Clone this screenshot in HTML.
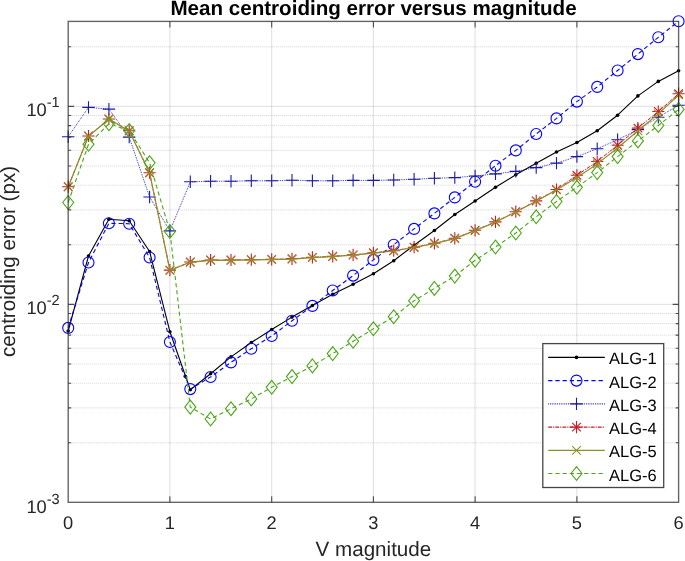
<!DOCTYPE html>
<html><head><meta charset="utf-8"><title>Mean centroiding error versus magnitude</title>
<style>html,body{margin:0;padding:0;background:#fff}body{width:685px;height:561px;overflow:hidden}svg{display:block;text-rendering:geometricPrecision}</style>
</head><body>
<svg width="685" height="561" viewBox="0 0 685 561" font-family="Liberation Sans, Arial, Helvetica, sans-serif">
<rect width="685" height="561" fill="#fff"/>
<g><line x1="169.9" y1="21.4" x2="169.9" y2="502.3" stroke="#262626" stroke-opacity="0.15" stroke-width="1"/>
<line x1="271.7" y1="21.4" x2="271.7" y2="502.3" stroke="#262626" stroke-opacity="0.15" stroke-width="1"/>
<line x1="373.4" y1="21.4" x2="373.4" y2="502.3" stroke="#262626" stroke-opacity="0.15" stroke-width="1"/>
<line x1="475.1" y1="21.4" x2="475.1" y2="502.3" stroke="#262626" stroke-opacity="0.15" stroke-width="1"/>
<line x1="576.9" y1="21.4" x2="576.9" y2="502.3" stroke="#262626" stroke-opacity="0.15" stroke-width="1"/>
<line x1="68.2" y1="304.4" x2="678.6" y2="304.4" stroke="#262626" stroke-opacity="0.15" stroke-width="1"/>
<line x1="68.2" y1="106.4" x2="678.6" y2="106.4" stroke="#262626" stroke-opacity="0.15" stroke-width="1"/>
<line x1="68.2" y1="442.8" x2="678.6" y2="442.8" stroke="#262626" stroke-opacity="0.2" stroke-width="1" stroke-dasharray="1 1"/>
<line x1="68.2" y1="407.9" x2="678.6" y2="407.9" stroke="#262626" stroke-opacity="0.2" stroke-width="1" stroke-dasharray="1 1"/>
<line x1="68.2" y1="383.2" x2="678.6" y2="383.2" stroke="#262626" stroke-opacity="0.2" stroke-width="1" stroke-dasharray="1 1"/>
<line x1="68.2" y1="364.0" x2="678.6" y2="364.0" stroke="#262626" stroke-opacity="0.2" stroke-width="1" stroke-dasharray="1 1"/>
<line x1="68.2" y1="348.3" x2="678.6" y2="348.3" stroke="#262626" stroke-opacity="0.2" stroke-width="1" stroke-dasharray="1 1"/>
<line x1="68.2" y1="335.1" x2="678.6" y2="335.1" stroke="#262626" stroke-opacity="0.2" stroke-width="1" stroke-dasharray="1 1"/>
<line x1="68.2" y1="323.6" x2="678.6" y2="323.6" stroke="#262626" stroke-opacity="0.2" stroke-width="1" stroke-dasharray="1 1"/>
<line x1="68.2" y1="313.5" x2="678.6" y2="313.5" stroke="#262626" stroke-opacity="0.2" stroke-width="1" stroke-dasharray="1 1"/>
<line x1="68.2" y1="244.8" x2="678.6" y2="244.8" stroke="#262626" stroke-opacity="0.2" stroke-width="1" stroke-dasharray="1 1"/>
<line x1="68.2" y1="209.9" x2="678.6" y2="209.9" stroke="#262626" stroke-opacity="0.2" stroke-width="1" stroke-dasharray="1 1"/>
<line x1="68.2" y1="185.2" x2="678.6" y2="185.2" stroke="#262626" stroke-opacity="0.2" stroke-width="1" stroke-dasharray="1 1"/>
<line x1="68.2" y1="166.0" x2="678.6" y2="166.0" stroke="#262626" stroke-opacity="0.2" stroke-width="1" stroke-dasharray="1 1"/>
<line x1="68.2" y1="150.3" x2="678.6" y2="150.3" stroke="#262626" stroke-opacity="0.2" stroke-width="1" stroke-dasharray="1 1"/>
<line x1="68.2" y1="137.1" x2="678.6" y2="137.1" stroke="#262626" stroke-opacity="0.2" stroke-width="1" stroke-dasharray="1 1"/>
<line x1="68.2" y1="125.6" x2="678.6" y2="125.6" stroke="#262626" stroke-opacity="0.2" stroke-width="1" stroke-dasharray="1 1"/>
<line x1="68.2" y1="115.5" x2="678.6" y2="115.5" stroke="#262626" stroke-opacity="0.2" stroke-width="1" stroke-dasharray="1 1"/>
<line x1="68.2" y1="46.8" x2="678.6" y2="46.8" stroke="#262626" stroke-opacity="0.2" stroke-width="1" stroke-dasharray="1 1"/></g>
<defs><clipPath id="cp"><rect x="60.2" y="13.399999999999999" width="626.4" height="496.90000000000003"/></clipPath></defs>
<g><polyline points="68.2,331.0 88.5,256.0 108.9,219.2 129.2,220.8 149.6,251.5 169.9,331.7 190.3,389.7 210.6,373.7 231.0,356.9 251.3,342.5 271.7,329.5 292.0,317.1 312.4,305.5 332.7,294.2 353.1,284.3 373.4,273.7 393.7,260.7 414.1,245.2 434.4,230.5 454.8,214.5 475.1,201.0 495.5,187.3 515.8,174.8 536.2,163.2 556.5,152.0 576.9,142.5 597.2,130.7 617.6,115.2 637.9,95.9 658.3,81.4 678.6,70.7" fill="none" stroke="#000000" stroke-width="1.1" stroke-linejoin="round"/>

<circle cx="68.2" cy="331.0" r="1.8" fill="#000000"/><circle cx="88.5" cy="256.0" r="1.8" fill="#000000"/><circle cx="108.9" cy="219.2" r="1.8" fill="#000000"/><circle cx="129.2" cy="220.8" r="1.8" fill="#000000"/><circle cx="149.6" cy="251.5" r="1.8" fill="#000000"/><circle cx="169.9" cy="331.7" r="1.8" fill="#000000"/><circle cx="190.3" cy="389.7" r="1.8" fill="#000000"/><circle cx="210.6" cy="373.7" r="1.8" fill="#000000"/><circle cx="231.0" cy="356.9" r="1.8" fill="#000000"/><circle cx="251.3" cy="342.5" r="1.8" fill="#000000"/><circle cx="271.7" cy="329.5" r="1.8" fill="#000000"/><circle cx="292.0" cy="317.1" r="1.8" fill="#000000"/><circle cx="312.4" cy="305.5" r="1.8" fill="#000000"/><circle cx="332.7" cy="294.2" r="1.8" fill="#000000"/><circle cx="353.1" cy="284.3" r="1.8" fill="#000000"/><circle cx="373.4" cy="273.7" r="1.8" fill="#000000"/><circle cx="393.7" cy="260.7" r="1.8" fill="#000000"/><circle cx="414.1" cy="245.2" r="1.8" fill="#000000"/><circle cx="434.4" cy="230.5" r="1.8" fill="#000000"/><circle cx="454.8" cy="214.5" r="1.8" fill="#000000"/><circle cx="475.1" cy="201.0" r="1.8" fill="#000000"/><circle cx="495.5" cy="187.3" r="1.8" fill="#000000"/><circle cx="515.8" cy="174.8" r="1.8" fill="#000000"/><circle cx="536.2" cy="163.2" r="1.8" fill="#000000"/><circle cx="556.5" cy="152.0" r="1.8" fill="#000000"/><circle cx="576.9" cy="142.5" r="1.8" fill="#000000"/><circle cx="597.2" cy="130.7" r="1.8" fill="#000000"/><circle cx="617.6" cy="115.2" r="1.8" fill="#000000"/><circle cx="637.9" cy="95.9" r="1.8" fill="#000000"/><circle cx="658.3" cy="81.4" r="1.8" fill="#000000"/><circle cx="678.6" cy="70.7" r="1.8" fill="#000000"/><circle cx="185.3" cy="376.2" r="1.8" fill="#000000"/>
<polyline points="68.2,327.9 88.5,262.5 108.9,223.3 129.2,223.7 149.6,257.5 169.9,342.0 190.3,389.1 210.6,377.0 231.0,362.4 251.3,348.7 271.7,336.0 292.0,320.8 312.4,305.9 332.7,290.5 353.1,275.6 373.4,259.9 393.7,244.7 414.1,228.9 434.4,213.4 454.8,197.4 475.1,181.7 495.5,165.7 515.8,150.4 536.2,134.0 556.5,118.4 576.9,101.6 597.2,86.9 617.6,70.5 637.9,54.1 658.3,37.3 678.6,21.3" fill="none" stroke="#0000ff" stroke-width="1.1" stroke-dasharray="4.2 3.0" stroke-linejoin="round"/>

<circle cx="68.2" cy="327.9" r="5.5" fill="none" stroke="#0000ff" stroke-width="1.1"/><circle cx="88.5" cy="262.5" r="5.5" fill="none" stroke="#0000ff" stroke-width="1.1"/><circle cx="108.9" cy="223.3" r="5.5" fill="none" stroke="#0000ff" stroke-width="1.1"/><circle cx="129.2" cy="223.7" r="5.5" fill="none" stroke="#0000ff" stroke-width="1.1"/><circle cx="149.6" cy="257.5" r="5.5" fill="none" stroke="#0000ff" stroke-width="1.1"/><circle cx="169.9" cy="342.0" r="5.5" fill="none" stroke="#0000ff" stroke-width="1.1"/><circle cx="190.3" cy="389.1" r="5.5" fill="none" stroke="#0000ff" stroke-width="1.1"/><circle cx="210.6" cy="377.0" r="5.5" fill="none" stroke="#0000ff" stroke-width="1.1"/><circle cx="231.0" cy="362.4" r="5.5" fill="none" stroke="#0000ff" stroke-width="1.1"/><circle cx="251.3" cy="348.7" r="5.5" fill="none" stroke="#0000ff" stroke-width="1.1"/><circle cx="271.7" cy="336.0" r="5.5" fill="none" stroke="#0000ff" stroke-width="1.1"/><circle cx="292.0" cy="320.8" r="5.5" fill="none" stroke="#0000ff" stroke-width="1.1"/><circle cx="312.4" cy="305.9" r="5.5" fill="none" stroke="#0000ff" stroke-width="1.1"/><circle cx="332.7" cy="290.5" r="5.5" fill="none" stroke="#0000ff" stroke-width="1.1"/><circle cx="353.1" cy="275.6" r="5.5" fill="none" stroke="#0000ff" stroke-width="1.1"/><circle cx="373.4" cy="259.9" r="5.5" fill="none" stroke="#0000ff" stroke-width="1.1"/><circle cx="393.7" cy="244.7" r="5.5" fill="none" stroke="#0000ff" stroke-width="1.1"/><circle cx="414.1" cy="228.9" r="5.5" fill="none" stroke="#0000ff" stroke-width="1.1"/><circle cx="434.4" cy="213.4" r="5.5" fill="none" stroke="#0000ff" stroke-width="1.1"/><circle cx="454.8" cy="197.4" r="5.5" fill="none" stroke="#0000ff" stroke-width="1.1"/><circle cx="475.1" cy="181.7" r="5.5" fill="none" stroke="#0000ff" stroke-width="1.1"/><circle cx="495.5" cy="165.7" r="5.5" fill="none" stroke="#0000ff" stroke-width="1.1"/><circle cx="515.8" cy="150.4" r="5.5" fill="none" stroke="#0000ff" stroke-width="1.1"/><circle cx="536.2" cy="134.0" r="5.5" fill="none" stroke="#0000ff" stroke-width="1.1"/><circle cx="556.5" cy="118.4" r="5.5" fill="none" stroke="#0000ff" stroke-width="1.1"/><circle cx="576.9" cy="101.6" r="5.5" fill="none" stroke="#0000ff" stroke-width="1.1"/><circle cx="597.2" cy="86.9" r="5.5" fill="none" stroke="#0000ff" stroke-width="1.1"/><circle cx="617.6" cy="70.5" r="5.5" fill="none" stroke="#0000ff" stroke-width="1.1"/><circle cx="637.9" cy="54.1" r="5.5" fill="none" stroke="#0000ff" stroke-width="1.1"/><circle cx="658.3" cy="37.3" r="5.5" fill="none" stroke="#0000ff" stroke-width="1.1"/><circle cx="678.6" cy="21.3" r="5.5" fill="none" stroke="#0000ff" stroke-width="1.1"/>
<polyline points="68.2,136.7 88.5,107.4 108.9,109.1 129.2,137.1 149.6,197.0 169.9,230.9 190.3,181.8 210.6,181.2 231.0,181.2 251.3,180.8 271.7,180.8 292.0,180.2 312.4,180.8 332.7,180.8 353.1,180.4 373.4,180.4 393.7,180.0 414.1,179.3 434.4,178.3 454.8,177.6 475.1,176.0 495.5,173.9 515.8,171.4 536.2,167.6 556.5,163.1 576.9,156.6 597.2,148.7 617.6,139.8 637.9,129.6 658.3,117.2 678.6,105.2" fill="none" stroke="#1a1aa6" stroke-width="1.0" stroke-dasharray="0.8 1.0" stroke-linejoin="round"/>

<path d="M62.0 136.7H74.4M68.2 130.5V142.9" stroke="#1a1aa6" stroke-width="1.1" fill="none"/><path d="M82.3 107.4H94.7M88.5 101.2V113.6" stroke="#1a1aa6" stroke-width="1.1" fill="none"/><path d="M102.7 109.1H115.1M108.9 102.9V115.3" stroke="#1a1aa6" stroke-width="1.1" fill="none"/><path d="M123.0 137.1H135.4M129.2 130.9V143.3" stroke="#1a1aa6" stroke-width="1.1" fill="none"/><path d="M143.4 197.0H155.8M149.6 190.8V203.2" stroke="#1a1aa6" stroke-width="1.1" fill="none"/><path d="M163.7 230.9H176.1M169.9 224.7V237.1" stroke="#1a1aa6" stroke-width="1.1" fill="none"/><path d="M184.1 181.8H196.5M190.3 175.6V188.0" stroke="#1a1aa6" stroke-width="1.1" fill="none"/><path d="M204.4 181.2H216.8M210.6 175.0V187.4" stroke="#1a1aa6" stroke-width="1.1" fill="none"/><path d="M224.8 181.2H237.2M231.0 175.0V187.4" stroke="#1a1aa6" stroke-width="1.1" fill="none"/><path d="M245.1 180.8H257.5M251.3 174.6V187.0" stroke="#1a1aa6" stroke-width="1.1" fill="none"/><path d="M265.5 180.8H277.9M271.7 174.6V187.0" stroke="#1a1aa6" stroke-width="1.1" fill="none"/><path d="M285.8 180.2H298.2M292.0 174.0V186.4" stroke="#1a1aa6" stroke-width="1.1" fill="none"/><path d="M306.2 180.8H318.6M312.4 174.6V187.0" stroke="#1a1aa6" stroke-width="1.1" fill="none"/><path d="M326.5 180.8H338.9M332.7 174.6V187.0" stroke="#1a1aa6" stroke-width="1.1" fill="none"/><path d="M346.9 180.4H359.3M353.1 174.2V186.6" stroke="#1a1aa6" stroke-width="1.1" fill="none"/><path d="M367.2 180.4H379.6M373.4 174.2V186.6" stroke="#1a1aa6" stroke-width="1.1" fill="none"/><path d="M387.5 180.0H399.9M393.7 173.8V186.2" stroke="#1a1aa6" stroke-width="1.1" fill="none"/><path d="M407.9 179.3H420.3M414.1 173.1V185.5" stroke="#1a1aa6" stroke-width="1.1" fill="none"/><path d="M428.2 178.3H440.6M434.4 172.1V184.5" stroke="#1a1aa6" stroke-width="1.1" fill="none"/><path d="M448.6 177.6H461.0M454.8 171.4V183.8" stroke="#1a1aa6" stroke-width="1.1" fill="none"/><path d="M468.9 176.0H481.3M475.1 169.8V182.2" stroke="#1a1aa6" stroke-width="1.1" fill="none"/><path d="M489.3 173.9H501.7M495.5 167.7V180.1" stroke="#1a1aa6" stroke-width="1.1" fill="none"/><path d="M509.6 171.4H522.0M515.8 165.2V177.6" stroke="#1a1aa6" stroke-width="1.1" fill="none"/><path d="M530.0 167.6H542.4M536.2 161.4V173.8" stroke="#1a1aa6" stroke-width="1.1" fill="none"/><path d="M550.3 163.1H562.7M556.5 156.9V169.3" stroke="#1a1aa6" stroke-width="1.1" fill="none"/><path d="M570.7 156.6H583.1M576.9 150.4V162.8" stroke="#1a1aa6" stroke-width="1.1" fill="none"/><path d="M591.0 148.7H603.4M597.2 142.5V154.9" stroke="#1a1aa6" stroke-width="1.1" fill="none"/><path d="M611.4 139.8H623.8M617.6 133.6V146.0" stroke="#1a1aa6" stroke-width="1.1" fill="none"/><path d="M631.7 129.6H644.1M637.9 123.4V135.8" stroke="#1a1aa6" stroke-width="1.1" fill="none"/><path d="M652.1 117.2H664.5M658.3 111.0V123.4" stroke="#1a1aa6" stroke-width="1.1" fill="none"/><path d="M672.4 105.2H684.8M678.6 99.0V111.4" stroke="#1a1aa6" stroke-width="1.1" fill="none"/>
<polyline points="68.2,186.7 88.5,136.0 108.9,119.0 129.2,130.7 149.6,172.7 169.9,270.1 190.3,262.0 210.6,260.0 231.0,260.0 251.3,259.6 271.7,259.4 292.0,258.8 312.4,257.4 332.7,256.3 353.1,254.9 373.4,252.8 393.7,250.7 414.1,247.2 434.4,243.3 454.8,238.3 475.1,230.3 495.5,221.9 515.8,211.7 536.2,200.9 556.5,189.5 576.9,175.3 597.2,161.5 617.6,145.2 637.9,128.1 658.3,111.5 678.6,93.8" fill="none" stroke="#cc1a26" stroke-width="1.0" stroke-dasharray="3.8 1.1 1.1 1.1" stroke-linejoin="round"/>

<path d="M62.1 186.7H74.3M68.2 180.6V192.8" stroke="#cc1a26" stroke-width="1.1" fill="none"/><path d="M63.9 182.4L72.5 191.0M63.9 191.0L72.5 182.4" stroke="#cc1a26" stroke-width="1.1" fill="none"/><path d="M82.4 136.0H94.6M88.5 129.9V142.1" stroke="#cc1a26" stroke-width="1.1" fill="none"/><path d="M84.2 131.7L92.8 140.3M84.2 140.3L92.8 131.7" stroke="#cc1a26" stroke-width="1.1" fill="none"/><path d="M102.8 119.0H115.0M108.9 112.9V125.1" stroke="#cc1a26" stroke-width="1.1" fill="none"/><path d="M104.6 114.7L113.2 123.3M104.6 123.3L113.2 114.7" stroke="#cc1a26" stroke-width="1.1" fill="none"/><path d="M123.1 130.7H135.3M129.2 124.6V136.8" stroke="#cc1a26" stroke-width="1.1" fill="none"/><path d="M124.9 126.4L133.5 135.0M124.9 135.0L133.5 126.4" stroke="#cc1a26" stroke-width="1.1" fill="none"/><path d="M143.5 172.7H155.7M149.6 166.6V178.8" stroke="#cc1a26" stroke-width="1.1" fill="none"/><path d="M145.3 168.4L153.9 177.0M145.3 177.0L153.9 168.4" stroke="#cc1a26" stroke-width="1.1" fill="none"/><path d="M163.8 270.1H176.0M169.9 264.0V276.2" stroke="#cc1a26" stroke-width="1.1" fill="none"/><path d="M165.6 265.8L174.2 274.4M165.6 274.4L174.2 265.8" stroke="#cc1a26" stroke-width="1.1" fill="none"/><path d="M184.2 262.0H196.4M190.3 255.9V268.1" stroke="#cc1a26" stroke-width="1.1" fill="none"/><path d="M186.0 257.7L194.6 266.3M186.0 266.3L194.6 257.7" stroke="#cc1a26" stroke-width="1.1" fill="none"/><path d="M204.5 260.0H216.7M210.6 253.9V266.1" stroke="#cc1a26" stroke-width="1.1" fill="none"/><path d="M206.3 255.7L214.9 264.3M206.3 264.3L214.9 255.7" stroke="#cc1a26" stroke-width="1.1" fill="none"/><path d="M224.9 260.0H237.1M231.0 253.9V266.1" stroke="#cc1a26" stroke-width="1.1" fill="none"/><path d="M226.7 255.7L235.3 264.3M226.7 264.3L235.3 255.7" stroke="#cc1a26" stroke-width="1.1" fill="none"/><path d="M245.2 259.6H257.4M251.3 253.5V265.7" stroke="#cc1a26" stroke-width="1.1" fill="none"/><path d="M247.0 255.3L255.6 263.9M247.0 263.9L255.6 255.3" stroke="#cc1a26" stroke-width="1.1" fill="none"/><path d="M265.6 259.4H277.8M271.7 253.3V265.5" stroke="#cc1a26" stroke-width="1.1" fill="none"/><path d="M267.4 255.1L276.0 263.7M267.4 263.7L276.0 255.1" stroke="#cc1a26" stroke-width="1.1" fill="none"/><path d="M285.9 258.8H298.1M292.0 252.7V264.9" stroke="#cc1a26" stroke-width="1.1" fill="none"/><path d="M287.7 254.5L296.3 263.1M287.7 263.1L296.3 254.5" stroke="#cc1a26" stroke-width="1.1" fill="none"/><path d="M306.3 257.4H318.5M312.4 251.3V263.5" stroke="#cc1a26" stroke-width="1.1" fill="none"/><path d="M308.1 253.1L316.7 261.7M308.1 261.7L316.7 253.1" stroke="#cc1a26" stroke-width="1.1" fill="none"/><path d="M326.6 256.3H338.8M332.7 250.2V262.4" stroke="#cc1a26" stroke-width="1.1" fill="none"/><path d="M328.4 252.0L337.0 260.6M328.4 260.6L337.0 252.0" stroke="#cc1a26" stroke-width="1.1" fill="none"/><path d="M347.0 254.9H359.2M353.1 248.8V261.0" stroke="#cc1a26" stroke-width="1.1" fill="none"/><path d="M348.8 250.6L357.4 259.2M348.8 259.2L357.4 250.6" stroke="#cc1a26" stroke-width="1.1" fill="none"/><path d="M367.3 252.8H379.5M373.4 246.7V258.9" stroke="#cc1a26" stroke-width="1.1" fill="none"/><path d="M369.1 248.5L377.7 257.1M369.1 257.1L377.7 248.5" stroke="#cc1a26" stroke-width="1.1" fill="none"/><path d="M387.6 250.7H399.8M393.7 244.6V256.8" stroke="#cc1a26" stroke-width="1.1" fill="none"/><path d="M389.4 246.4L398.0 255.0M389.4 255.0L398.0 246.4" stroke="#cc1a26" stroke-width="1.1" fill="none"/><path d="M408.0 247.2H420.2M414.1 241.1V253.3" stroke="#cc1a26" stroke-width="1.1" fill="none"/><path d="M409.8 242.9L418.4 251.5M409.8 251.5L418.4 242.9" stroke="#cc1a26" stroke-width="1.1" fill="none"/><path d="M428.3 243.3H440.5M434.4 237.2V249.4" stroke="#cc1a26" stroke-width="1.1" fill="none"/><path d="M430.1 239.0L438.7 247.6M430.1 247.6L438.7 239.0" stroke="#cc1a26" stroke-width="1.1" fill="none"/><path d="M448.7 238.3H460.9M454.8 232.2V244.4" stroke="#cc1a26" stroke-width="1.1" fill="none"/><path d="M450.5 234.0L459.1 242.6M450.5 242.6L459.1 234.0" stroke="#cc1a26" stroke-width="1.1" fill="none"/><path d="M469.0 230.3H481.2M475.1 224.2V236.4" stroke="#cc1a26" stroke-width="1.1" fill="none"/><path d="M470.8 226.0L479.4 234.6M470.8 234.6L479.4 226.0" stroke="#cc1a26" stroke-width="1.1" fill="none"/><path d="M489.4 221.9H501.6M495.5 215.8V228.0" stroke="#cc1a26" stroke-width="1.1" fill="none"/><path d="M491.2 217.6L499.8 226.2M491.2 226.2L499.8 217.6" stroke="#cc1a26" stroke-width="1.1" fill="none"/><path d="M509.7 211.7H521.9M515.8 205.6V217.8" stroke="#cc1a26" stroke-width="1.1" fill="none"/><path d="M511.5 207.4L520.1 216.0M511.5 216.0L520.1 207.4" stroke="#cc1a26" stroke-width="1.1" fill="none"/><path d="M530.1 200.9H542.3M536.2 194.8V207.0" stroke="#cc1a26" stroke-width="1.1" fill="none"/><path d="M531.9 196.6L540.5 205.2M531.9 205.2L540.5 196.6" stroke="#cc1a26" stroke-width="1.1" fill="none"/><path d="M550.4 189.5H562.6M556.5 183.4V195.6" stroke="#cc1a26" stroke-width="1.1" fill="none"/><path d="M552.2 185.2L560.8 193.8M552.2 193.8L560.8 185.2" stroke="#cc1a26" stroke-width="1.1" fill="none"/><path d="M570.8 175.3H583.0M576.9 169.2V181.4" stroke="#cc1a26" stroke-width="1.1" fill="none"/><path d="M572.6 171.0L581.2 179.6M572.6 179.6L581.2 171.0" stroke="#cc1a26" stroke-width="1.1" fill="none"/><path d="M591.1 161.5H603.3M597.2 155.4V167.6" stroke="#cc1a26" stroke-width="1.1" fill="none"/><path d="M592.9 157.2L601.5 165.8M592.9 165.8L601.5 157.2" stroke="#cc1a26" stroke-width="1.1" fill="none"/><path d="M611.5 145.2H623.7M617.6 139.1V151.3" stroke="#cc1a26" stroke-width="1.1" fill="none"/><path d="M613.3 140.9L621.9 149.5M613.3 149.5L621.9 140.9" stroke="#cc1a26" stroke-width="1.1" fill="none"/><path d="M631.8 128.1H644.0M637.9 122.0V134.2" stroke="#cc1a26" stroke-width="1.1" fill="none"/><path d="M633.6 123.8L642.2 132.4M633.6 132.4L642.2 123.8" stroke="#cc1a26" stroke-width="1.1" fill="none"/><path d="M652.2 111.5H664.4M658.3 105.4V117.6" stroke="#cc1a26" stroke-width="1.1" fill="none"/><path d="M654.0 107.2L662.6 115.8M654.0 115.8L662.6 107.2" stroke="#cc1a26" stroke-width="1.1" fill="none"/><path d="M672.5 93.8H684.7M678.6 87.7V99.9" stroke="#cc1a26" stroke-width="1.1" fill="none"/><path d="M674.3 89.5L682.9 98.1M674.3 98.1L682.9 89.5" stroke="#cc1a26" stroke-width="1.1" fill="none"/>
<polyline points="68.2,187.0 88.5,136.3 108.9,119.3 129.2,131.0 149.6,173.0 169.9,270.4 190.3,262.3 210.6,260.3 231.0,260.3 251.3,259.9 271.7,259.7 292.0,259.1 312.4,257.7 332.7,256.6 353.1,255.2 373.4,253.1 393.7,251.0 414.1,247.5 434.4,243.6 454.8,238.6 475.1,230.6 495.5,222.2 515.8,212.0 536.2,201.2 556.5,190.0 576.9,177.6 597.2,163.9 617.6,148.0 637.9,130.8 658.3,113.9 678.6,95.0" fill="none" stroke="#90902a" stroke-width="1.2" stroke-linejoin="round"/>

<path d="M64.0 182.8L72.5 191.2M64.0 191.2L72.5 182.8" stroke="#90902a" stroke-width="1.1" fill="none"/><path d="M84.3 132.1L92.8 140.6M84.3 140.6L92.8 132.1" stroke="#90902a" stroke-width="1.1" fill="none"/><path d="M104.6 115.0L113.1 123.5M104.6 123.5L113.1 115.0" stroke="#90902a" stroke-width="1.1" fill="none"/><path d="M125.0 126.8L133.5 135.2M125.0 135.2L133.5 126.8" stroke="#90902a" stroke-width="1.1" fill="none"/><path d="M145.3 168.8L153.8 177.2M145.3 177.2L153.8 168.8" stroke="#90902a" stroke-width="1.1" fill="none"/><path d="M165.7 266.1L174.2 274.6M165.7 274.6L174.2 266.1" stroke="#90902a" stroke-width="1.1" fill="none"/><path d="M186.0 258.1L194.5 266.6M186.0 266.6L194.5 258.1" stroke="#90902a" stroke-width="1.1" fill="none"/><path d="M206.4 256.1L214.9 264.6M206.4 264.6L214.9 256.1" stroke="#90902a" stroke-width="1.1" fill="none"/><path d="M226.7 256.1L235.2 264.6M226.7 264.6L235.2 256.1" stroke="#90902a" stroke-width="1.1" fill="none"/><path d="M247.1 255.6L255.6 264.1M247.1 264.1L255.6 255.6" stroke="#90902a" stroke-width="1.1" fill="none"/><path d="M267.4 255.4L275.9 263.9M267.4 263.9L275.9 255.4" stroke="#90902a" stroke-width="1.1" fill="none"/><path d="M287.8 254.9L296.3 263.4M287.8 263.4L296.3 254.9" stroke="#90902a" stroke-width="1.1" fill="none"/><path d="M308.1 253.4L316.6 261.9M308.1 261.9L316.6 253.4" stroke="#90902a" stroke-width="1.1" fill="none"/><path d="M328.5 252.4L337.0 260.9M328.5 260.9L337.0 252.4" stroke="#90902a" stroke-width="1.1" fill="none"/><path d="M348.8 250.9L357.3 259.4M348.8 259.4L357.3 250.9" stroke="#90902a" stroke-width="1.1" fill="none"/><path d="M369.1 248.8L377.6 257.4M369.1 257.4L377.6 248.8" stroke="#90902a" stroke-width="1.1" fill="none"/><path d="M389.5 246.8L398.0 255.2M389.5 255.2L398.0 246.8" stroke="#90902a" stroke-width="1.1" fill="none"/><path d="M409.8 243.2L418.3 251.8M409.8 251.8L418.3 243.2" stroke="#90902a" stroke-width="1.1" fill="none"/><path d="M430.2 239.3L438.7 247.8M430.2 247.8L438.7 239.3" stroke="#90902a" stroke-width="1.1" fill="none"/><path d="M450.5 234.3L459.0 242.8M450.5 242.8L459.0 234.3" stroke="#90902a" stroke-width="1.1" fill="none"/><path d="M470.9 226.3L479.4 234.8M470.9 234.8L479.4 226.3" stroke="#90902a" stroke-width="1.1" fill="none"/><path d="M491.2 217.9L499.7 226.4M491.2 226.4L499.7 217.9" stroke="#90902a" stroke-width="1.1" fill="none"/><path d="M511.6 207.8L520.1 216.2M511.6 216.2L520.1 207.8" stroke="#90902a" stroke-width="1.1" fill="none"/><path d="M531.9 196.9L540.4 205.4M531.9 205.4L540.4 196.9" stroke="#90902a" stroke-width="1.1" fill="none"/><path d="M552.3 185.8L560.8 194.2M552.3 194.2L560.8 185.8" stroke="#90902a" stroke-width="1.1" fill="none"/><path d="M572.6 173.3L581.1 181.8M572.6 181.8L581.1 173.3" stroke="#90902a" stroke-width="1.1" fill="none"/><path d="M593.0 159.7L601.5 168.2M593.0 168.2L601.5 159.7" stroke="#90902a" stroke-width="1.1" fill="none"/><path d="M613.3 143.8L621.8 152.2M613.3 152.2L621.8 143.8" stroke="#90902a" stroke-width="1.1" fill="none"/><path d="M633.7 126.6L642.2 135.1M633.7 135.1L642.2 126.6" stroke="#90902a" stroke-width="1.1" fill="none"/><path d="M654.0 109.7L662.5 118.2M654.0 118.2L662.5 109.7" stroke="#90902a" stroke-width="1.1" fill="none"/><path d="M674.4 90.8L682.9 99.2M674.4 99.2L682.9 90.8" stroke="#90902a" stroke-width="1.1" fill="none"/>
<polyline points="68.2,202.5 88.5,144.3 108.9,123.8 129.2,130.6 149.6,162.8 169.9,231.5 190.3,407.1 210.6,419.0 231.0,408.7 251.3,398.9 271.7,387.3 292.0,376.6 312.4,365.9 332.7,353.6 353.1,341.3 373.4,328.8 393.7,316.7 414.1,300.7 434.4,288.4 454.8,276.1 475.1,260.3 495.5,247.0 515.8,233.0 536.2,216.8 556.5,201.5 576.9,187.3 597.2,172.6 617.6,156.6 637.9,140.9 658.3,125.5 678.6,109.4" fill="none" stroke="#4da619" stroke-width="1.1" stroke-dasharray="4.2 3.0" stroke-linejoin="round"/>

<path d="M68.2 195.6L73.7 202.5L68.2 209.4L62.7 202.5Z" stroke="#4da619" stroke-width="1.1" fill="none"/><path d="M88.5 137.4L94.0 144.3L88.5 151.2L83.0 144.3Z" stroke="#4da619" stroke-width="1.1" fill="none"/><path d="M108.9 116.9L114.4 123.8L108.9 130.7L103.4 123.8Z" stroke="#4da619" stroke-width="1.1" fill="none"/><path d="M129.2 123.7L134.7 130.6L129.2 137.5L123.7 130.6Z" stroke="#4da619" stroke-width="1.1" fill="none"/><path d="M149.6 155.9L155.1 162.8L149.6 169.7L144.1 162.8Z" stroke="#4da619" stroke-width="1.1" fill="none"/><path d="M169.9 224.6L175.4 231.5L169.9 238.4L164.4 231.5Z" stroke="#4da619" stroke-width="1.1" fill="none"/><path d="M190.3 400.2L195.8 407.1L190.3 414.0L184.8 407.1Z" stroke="#4da619" stroke-width="1.1" fill="none"/><path d="M210.6 412.1L216.1 419.0L210.6 425.9L205.1 419.0Z" stroke="#4da619" stroke-width="1.1" fill="none"/><path d="M231.0 401.8L236.5 408.7L231.0 415.6L225.5 408.7Z" stroke="#4da619" stroke-width="1.1" fill="none"/><path d="M251.3 392.0L256.8 398.9L251.3 405.8L245.8 398.9Z" stroke="#4da619" stroke-width="1.1" fill="none"/><path d="M271.7 380.4L277.2 387.3L271.7 394.2L266.2 387.3Z" stroke="#4da619" stroke-width="1.1" fill="none"/><path d="M292.0 369.7L297.5 376.6L292.0 383.5L286.5 376.6Z" stroke="#4da619" stroke-width="1.1" fill="none"/><path d="M312.4 359.0L317.9 365.9L312.4 372.8L306.9 365.9Z" stroke="#4da619" stroke-width="1.1" fill="none"/><path d="M332.7 346.7L338.2 353.6L332.7 360.5L327.2 353.6Z" stroke="#4da619" stroke-width="1.1" fill="none"/><path d="M353.1 334.4L358.6 341.3L353.1 348.2L347.6 341.3Z" stroke="#4da619" stroke-width="1.1" fill="none"/><path d="M373.4 321.9L378.9 328.8L373.4 335.7L367.9 328.8Z" stroke="#4da619" stroke-width="1.1" fill="none"/><path d="M393.7 309.8L399.2 316.7L393.7 323.6L388.2 316.7Z" stroke="#4da619" stroke-width="1.1" fill="none"/><path d="M414.1 293.8L419.6 300.7L414.1 307.6L408.6 300.7Z" stroke="#4da619" stroke-width="1.1" fill="none"/><path d="M434.4 281.5L439.9 288.4L434.4 295.3L428.9 288.4Z" stroke="#4da619" stroke-width="1.1" fill="none"/><path d="M454.8 269.2L460.3 276.1L454.8 283.0L449.3 276.1Z" stroke="#4da619" stroke-width="1.1" fill="none"/><path d="M475.1 253.4L480.6 260.3L475.1 267.2L469.6 260.3Z" stroke="#4da619" stroke-width="1.1" fill="none"/><path d="M495.5 240.1L501.0 247.0L495.5 253.9L490.0 247.0Z" stroke="#4da619" stroke-width="1.1" fill="none"/><path d="M515.8 226.1L521.3 233.0L515.8 239.9L510.3 233.0Z" stroke="#4da619" stroke-width="1.1" fill="none"/><path d="M536.2 209.9L541.7 216.8L536.2 223.7L530.7 216.8Z" stroke="#4da619" stroke-width="1.1" fill="none"/><path d="M556.5 194.6L562.0 201.5L556.5 208.4L551.0 201.5Z" stroke="#4da619" stroke-width="1.1" fill="none"/><path d="M576.9 180.4L582.4 187.3L576.9 194.2L571.4 187.3Z" stroke="#4da619" stroke-width="1.1" fill="none"/><path d="M597.2 165.7L602.7 172.6L597.2 179.5L591.7 172.6Z" stroke="#4da619" stroke-width="1.1" fill="none"/><path d="M617.6 149.7L623.1 156.6L617.6 163.5L612.1 156.6Z" stroke="#4da619" stroke-width="1.1" fill="none"/><path d="M637.9 134.0L643.4 140.9L637.9 147.8L632.4 140.9Z" stroke="#4da619" stroke-width="1.1" fill="none"/><path d="M658.3 118.6L663.8 125.5L658.3 132.4L652.8 125.5Z" stroke="#4da619" stroke-width="1.1" fill="none"/><path d="M678.6 102.5L684.1 109.4L678.6 116.3L673.1 109.4Z" stroke="#4da619" stroke-width="1.1" fill="none"/></g>
<g><rect x="68.2" y="21.4" width="610.4" height="480.9" fill="none" stroke="#262626" stroke-opacity="0.72" stroke-width="1.35"/>
<path d="M169.9 502.3v-6M169.9 21.4v6M271.7 502.3v-6M271.7 21.4v6M373.4 502.3v-6M373.4 21.4v6M475.1 502.3v-6M475.1 21.4v6M576.9 502.3v-6M576.9 21.4v6M68.2 304.4h6M678.6 304.4h-6M68.2 106.4h6M678.6 106.4h-6M68.2 442.8h3M678.6 442.8h-3M68.2 407.9h3M678.6 407.9h-3M68.2 383.2h3M678.6 383.2h-3M68.2 364.0h3M678.6 364.0h-3M68.2 348.3h3M678.6 348.3h-3M68.2 335.1h3M678.6 335.1h-3M68.2 323.6h3M678.6 323.6h-3M68.2 313.5h3M678.6 313.5h-3M68.2 244.8h3M678.6 244.8h-3M68.2 209.9h3M678.6 209.9h-3M68.2 185.2h3M678.6 185.2h-3M68.2 166.0h3M678.6 166.0h-3M68.2 150.3h3M678.6 150.3h-3M68.2 137.1h3M678.6 137.1h-3M68.2 125.6h3M678.6 125.6h-3M68.2 115.5h3M678.6 115.5h-3M68.2 46.8h3M678.6 46.8h-3" stroke="#262626" stroke-opacity="0.8" stroke-width="1.1" fill="none"/></g>
<g><text x="68.2" y="528.8" font-size="18.3" fill="#262626" text-anchor="middle">0</text>
<text x="169.9" y="528.8" font-size="18.3" fill="#262626" text-anchor="middle">1</text>
<text x="271.7" y="528.8" font-size="18.3" fill="#262626" text-anchor="middle">2</text>
<text x="373.4" y="528.8" font-size="18.3" fill="#262626" text-anchor="middle">3</text>
<text x="475.1" y="528.8" font-size="18.3" fill="#262626" text-anchor="middle">4</text>
<text x="576.9" y="528.8" font-size="18.3" fill="#262626" text-anchor="middle">5</text>
<text x="678.6" y="528.8" font-size="18.3" fill="#262626" text-anchor="middle">6</text>
<text x="26.4" y="513" font-size="18.3" fill="#262626">10<tspan font-size="14.6" dy="-8.8">-3</tspan></text>
<text x="26.4" y="314" font-size="18.3" fill="#262626">10<tspan font-size="14.6" dy="-8.8">-2</tspan></text>
<text x="26.4" y="116" font-size="18.3" fill="#262626">10<tspan font-size="14.6" dy="-8.8">-1</tspan></text></g>
<text x="373.4" y="556.4" font-size="20.6" fill="#262626" text-anchor="middle">V magnitude</text>
<text transform="translate(15.2 261.5) rotate(-90)" font-size="20.6" fill="#262626" text-anchor="middle">centroiding error (px)</text>
<text x="373.5" y="14.6" font-size="20.6" font-weight="bold" fill="#000" text-anchor="middle">Mean centroiding error versus magnitude</text>
<g><rect x="542.8" y="343.6" width="120.9" height="143.9" fill="#fff" stroke="#262626" stroke-opacity="0.85" stroke-width="1.3"/>
<line x1="548.2" y1="357.4" x2="604.8" y2="357.4" stroke="#000000" stroke-width="1.2"/><circle cx="576.5" cy="357.4" r="1.8" fill="#000000"/>
<line x1="548.2" y1="380.6" x2="604.8" y2="380.6" stroke="#0000ff" stroke-width="1.2" stroke-dasharray="4.2 3.0"/><circle cx="576.5" cy="380.6" r="5.5" fill="none" stroke="#0000ff" stroke-width="1.1"/>
<line x1="548.2" y1="403.9" x2="604.8" y2="403.9" stroke="#1a1aa6" stroke-width="1.2" stroke-dasharray="0.8 1.0"/><path d="M570.3 403.9H582.7M576.5 397.7V410.1" stroke="#1a1aa6" stroke-width="1.1" fill="none"/>
<line x1="548.2" y1="427.1" x2="604.8" y2="427.1" stroke="#cc1a26" stroke-width="1.2" stroke-dasharray="3.8 1.1 1.1 1.1"/><path d="M570.4 427.1H582.6M576.5 421.0V433.2" stroke="#cc1a26" stroke-width="1.1" fill="none"/><path d="M572.2 422.8L580.8 431.4M572.2 431.4L580.8 422.8" stroke="#cc1a26" stroke-width="1.1" fill="none"/>
<line x1="548.2" y1="450.3" x2="604.8" y2="450.3" stroke="#90902a" stroke-width="1.2"/><path d="M572.2 446.1L580.8 454.6M572.2 454.6L580.8 446.1" stroke="#90902a" stroke-width="1.1" fill="none"/>
<line x1="548.2" y1="473.5" x2="604.8" y2="473.5" stroke="#4da619" stroke-width="1.2" stroke-dasharray="4.2 3.0"/><path d="M576.5 466.6L582.0 473.5L576.5 480.4L571.0 473.5Z" stroke="#4da619" stroke-width="1.1" fill="none"/>
<text x="609.0" y="364.4" font-size="16.5" fill="#000">ALG-1</text>
<text x="609.0" y="387.6" font-size="16.5" fill="#000">ALG-2</text>
<text x="609.0" y="410.9" font-size="16.5" fill="#000">ALG-3</text>
<text x="609.0" y="434.1" font-size="16.5" fill="#000">ALG-4</text>
<text x="609.0" y="457.3" font-size="16.5" fill="#000">ALG-5</text>
<text x="609.0" y="480.5" font-size="16.5" fill="#000">ALG-6</text></g>
</svg>
</body></html>
